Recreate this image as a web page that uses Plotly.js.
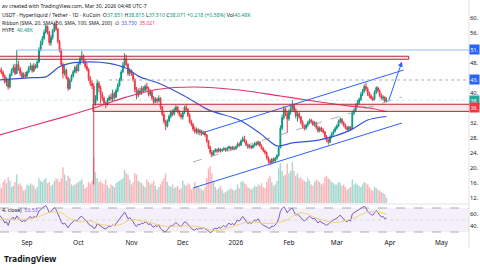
<!DOCTYPE html>
<html><head><meta charset="utf-8">
<script src="https://cdn.plot.ly/plotly-3.0.1.min.js"></script>
<style>html,body{margin:0;padding:0;background:#fff;}#chart{width:480px;height:270px;}</style>
</head><body><div id="chart"></div>
<script>
// ---- data (daily, starting 2025-08-16) ----
const firstDay = [2025, 7, 16];
const firstOpen = 45.8;
const closes = [
 46.2,45.5,44.6,42.9,43.6,41.6,44.8,45.9,46.8,45.2,47.6,46.4,45.3,44.2,44.9,44.5,
 45.6,46.7,47.2,45.9,47.3,46.8,48.3,51.6,53.2,54.6,56.2,57.8,56.3,53.4,54.8,56.6,58.5,57.1,53.8,51.4,47.6,45.2,46.1,44.0,41.2,43.3,44.6,45.7,46.8,45.9,
 47.8,49.2,49.8,48.2,47.1,46.2,43.8,42.6,41.9,37.2,38.3,42.6,41.4,39.5,38.6,37.3,36.9,38.2,38.9,38.4,39.8,38.9,40.6,41.9,43.4,45.6,47.4,49.2,47.6,45.2,46.0,
 45.1,43.6,40.9,39.4,40.6,40.1,41.3,40.7,41.8,41.2,39.6,40.3,38.7,37.6,38.4,37.9,38.6,36.2,34.3,32.4,31.2,32.6,33.8,34.9,34.4,35.5,36.2,35.0,34.2,33.6,
 34.8,36.1,35.6,34.1,32.4,31.6,30.4,29.7,30.2,29.5,29.9,29.1,29.6,28.8,27.2,25.6,24.2,23.5,24.4,24.9,24.5,25.0,24.6,24.9,25.2,24.7,25.3,25.6,25.0,25.4,25.1,
 25.6,26.4,26.1,27.2,27.8,27.1,26.2,25.6,25.9,25.4,26.0,26.6,26.3,26.9,26.0,25.2,24.6,24.1,22.8,21.9,21.4,22.3,21.9,22.6,23.3,25.4,30.6,33.4,35.6,34.6,33.1,
 34.9,35.8,36.7,35.4,33.9,34.5,33.6,32.2,31.1,30.6,31.4,32.1,32.7,32.3,31.6,32.1,30.8,29.9,30.7,30.2,29.6,28.4,27.4,26.9,28.3,29.1,29.8,30.6,
 31.2,32.4,33.0,32.1,31.4,30.8,30.3,30.9,30.4,34.6,35.3,36.6,37.4,38.3,39.6,40.5,41.8,41.1,39.8,39.2,38.6,38.3,40.2,41.4,40.6,39.4,38.6,38.9,37.851,38.071
];
const highs = [
 47.2,46.8,46.0,45.0,44.2,43.9,45.3,46.5,47.6,47.8,51.4,48.6,47.0,45.8,45.5,45.6,
 46.0,47.2,48.0,47.6,48.0,47.7,48.7,52.2,54.0,55.2,56.9,58.3,58.0,56.6,55.5,57.1,59.0,59.4,57.4,54.1,51.9,48.1,47.4,46.5,44.4,43.8,45.0,46.2,47.3,47.6,
 48.3,49.9,51.2,50.3,48.9,48.0,46.7,44.5,43.4,42.6,39.4,43.6,43.2,42.0,40.3,39.1,37.8,38.7,39.4,39.9,40.9,40.3,41.2,42.6,44.0,46.1,48.2,50.6,50.2,48.0,46.7,
 46.3,45.5,43.9,41.6,41.2,41.4,41.9,41.8,42.3,42.7,41.7,41.0,40.8,39.2,38.9,38.8,39.4,38.9,36.6,34.9,32.9,33.0,34.3,35.4,35.6,36.1,36.8,36.5,35.4,34.7,
 35.2,36.6,36.9,36.0,34.6,32.9,32.0,31.1,30.8,30.6,30.4,30.2,29.9,29.8,29.1,27.5,26.0,24.8,24.8,25.3,25.2,25.5,25.3,25.2,25.6,25.4,25.7,26.0,25.8,25.9,25.8,
 26.0,26.8,26.9,27.6,28.4,28.6,27.5,26.6,26.4,26.1,26.4,27.0,27.1,27.3,27.1,26.3,25.6,24.9,24.4,23.1,22.4,22.7,22.8,23.0,23.7,25.9,31.4,34.2,36.5,36.1,35.2,
 35.6,36.8,38.1,37.1,35.9,35.1,34.9,33.9,32.7,31.6,31.8,32.6,33.1,33.2,32.7,32.5,32.3,31.2,31.1,31.0,30.6,29.9,28.8,27.8,28.7,29.6,30.3,31.1,
 31.7,32.9,33.5,33.3,32.5,31.8,31.2,31.3,31.2,35.3,35.9,37.2,38.1,38.8,40.2,41.1,42.3,42.8,41.6,40.4,39.7,39.1,40.7,41.8,41.7,41.0,39.9,39.4,39.1,38.815
];
const lows = [
 45.5,45.0,43.8,42.5,41.8,40.9,41.2,44.5,45.4,44.8,45.0,45.9,44.6,43.8,43.9,44.0,
 44.2,45.2,46.1,45.4,45.6,46.3,46.6,48.0,51.1,52.8,54.2,55.8,55.6,52.7,52.6,54.2,56.2,56.5,53.2,50.9,47.2,43.9,44.6,43.6,40.6,40.9,43.0,44.1,45.2,45.3,
 45.8,47.4,48.6,47.8,46.5,45.8,43.2,41.9,41.0,15.6,36.6,37.9,40.2,37.2,37.9,36.8,35.9,36.6,37.8,37.9,37.6,38.2,38.6,40.2,41.7,43.1,45.3,46.9,47.1,44.6,44.5,
 44.6,43.0,40.2,38.3,38.8,39.4,39.5,40.1,40.3,40.6,39.1,39.2,38.1,37.0,37.3,37.2,37.5,35.6,33.8,31.8,30.1,30.8,32.2,33.2,33.8,34.0,35.1,34.6,33.7,33.0,
 32.9,34.4,35.1,33.6,31.9,31.1,29.8,29.2,29.1,28.9,28.7,28.6,28.8,28.3,26.7,25.1,23.6,22.9,23.2,24.1,24.0,24.2,24.1,24.3,24.6,24.3,24.5,25.0,24.7,24.8,24.7,
 24.9,25.4,25.7,25.9,26.9,26.7,25.9,25.1,25.2,25.0,25.2,25.7,25.9,26.0,25.6,24.9,24.2,23.6,22.3,21.2,20.7,21.0,21.4,21.6,22.2,23.0,25.2,30.1,32.9,33.8,29.4,
 32.6,34.2,35.3,34.8,33.2,32.4,33.0,31.6,30.5,30.0,30.2,30.9,31.7,31.8,31.2,31.0,30.3,29.4,29.5,29.6,29.2,27.9,26.9,26.2,26.6,27.9,28.8,29.5,
 30.2,30.9,31.9,31.6,30.9,30.3,29.9,29.8,29.9,30.3,34.1,34.9,36.2,36.9,37.9,39.2,40.0,40.5,39.2,38.6,38.1,37.8,38.0,39.7,40.1,38.9,38.2,37.9,37.4,37.51
];
const volumes = [
 150,120,170,190,160,210,180,130,140,170,230,150,160,140,100,110,
 150,140,160,150,140,110,130,200,180,170,190,200,160,170,140,150,180,200,190,170,200,290,230,180,220,200,150,140,150,160,
 170,180,190,150,120,130,170,160,180,370,250,200,170,180,160,150,190,140,120,150,140,130,160,170,180,190,200,270,240,230,190,
 150,170,240,230,180,170,160,140,130,190,170,150,160,180,140,110,130,150,180,200,240,170,140,130,150,120,130,140,110,120,
 180,150,140,160,150,110,120,170,140,130,120,110,100,130,200,280,300,240,180,130,110,120,140,110,80,90,100,110,120,110,100,
 110,150,120,170,180,160,150,130,120,110,120,140,130,150,140,160,130,120,170,200,220,170,140,150,180,280,320,260,220,230,320,
 240,260,330,260,220,240,200,210,190,180,170,200,180,150,140,170,190,180,170,150,160,210,220,200,190,170,160,150,
 150,170,160,140,150,130,110,120,130,190,150,160,150,140,130,150,170,160,150,130,110,100,130,120,110,100,90,80,70,40.48
];
const rsi = [
 58,55,51,45,47,41,49,52,55,50,57,53,50,47,49,48,
 51,54,56,52,56,54,58,65,68,70,72,74,69,62,64,68,71,67,59,54,47,43,45,41,37,42,45,47,50,48,
 52,55,56,52,50,48,43,41,40,36,37,44,42,39,38,36,35,38,40,39,42,40,44,47,51,55,59,63,58,52,54,
 51,47,42,39,43,42,45,44,47,46,42,44,40,38,41,39,42,36,33,31,30,34,37,41,40,44,46,43,41,39,
 43,47,46,42,38,36,34,33,36,34,37,35,38,35,34,31,29,30,35,36,35,38,36,39,41,38,42,45,42,44,42,
 46,50,48,53,56,52,47,44,46,44,47,50,49,52,47,43,41,40,38,37,36,40,39,42,45,52,64,69,72,68,62,
 66,68,70,64,58,60,57,53,50,48,51,54,56,54,52,53,48,45,48,46,44,42,41,43,46,48,50,51,
 53,56,58,54,51,49,47,50,48,60,62,64,66,67,69,71,73,70,64,62,59,58,63,66,62,58,55,56,52,53.53
];
const rsiMaDates = ['2025-08-16','2025-08-26','2025-09-05','2025-09-15','2025-09-21','2025-09-25','2025-10-01','2025-10-07','2025-10-15','2025-10-25','2025-10-31','2025-11-10','2025-11-20','2025-11-30','2025-12-10','2025-12-20','2025-12-30','2026-01-09','2026-01-19','2026-01-29','2026-02-08','2026-02-18','2026-02-28','2026-03-10','2026-03-20','2026-03-30'];
const rsiMa = [52,51,53,63,62,54,47,49,42,42,50,47,40,40,39,32,39,47,44,48,62,52,46,52,64,60];

const smaFastDates = ['2025-08-16','2025-09-04','2025-09-12','2025-09-20','2025-09-26','2025-10-07','2025-10-19','2025-10-29','2025-11-06','2025-11-17','2025-12-02','2025-12-16','2026-01-03','2026-01-15','2026-01-25','2026-02-03','2026-02-19','2026-03-09','2026-03-19','2026-03-30'];
const smaFast = [43.5,44.1,44.3,47.0,47.9,48.3,47.9,46.6,44.3,42.6,39.2,35.5,32.8,29.3,25.9,26.7,27.5,30.1,32.8,33.73];
const smaSlowDates = ['2025-08-16','2025-09-02','2025-09-20','2025-10-10','2025-10-29','2025-11-17','2025-12-07','2026-01-03','2026-01-27','2026-02-19','2026-03-09','2026-03-20','2026-03-30'];
const smaSlow = [28.8,31.0,33.3,36.0,38.9,41.0,41.6,40.8,39.2,37.6,36.5,36.0,35.021];

// drawings
const upperDates = ['2025-12-14','2026-04-09'];  const upperVals = [29.6, 46.13];
const lowerDates = ['2025-12-07','2026-04-08'];  const lowerVals = [14.67, 32.0];
const midDates   = ['2025-12-07','2026-04-08'];  const midVals   = [21.6, 38.93];
const arrowDates = ['2026-03-31','2026-04-08'];  const arrowVals = [37.6, 48.35];
const topZone = {from:'2025-08-01', to:'2026-04-12', lo:49.0, hi:49.8};
const lowZone = {from:'2025-10-09 12:00', to:'2026-06-01', lo:35.1, hi:37.0};
const resistLevel = {from:'2025-08-26', value:51.47};
const dottedLevel = {from:'2025-10-19', value:43.47};
const lastClose = 38.071;
const redLevel = 36.1;
// price-scale badges (only the part that fits inside the chart is shown, as in the reference)
const badgeTexts = ['51.', '43.', '38.', '36.'];

const monthTicks = ['2025-09-01','2025-10-01','2025-11-01','2025-12-01','2026-01-01','2026-02-01','2026-03-01','2026-04-01','2026-05-01'];
const monthLabels = ['Sep','Oct','Nov','Dec','2026','Feb','Mar','Apr','May'];
const priceTicks = [12,16,20,24,28,32,40,48,56,60];
const priceTickText = ['12.','16.','20.','24.','28.','32.','40.','48.','56.','60.'];
const rsiTicks = [40,60];
const rsiTickText = ['40.','60.'];

// ---- build ----
function dayStr(i){ const d = new Date(Date.UTC(firstDay[0], firstDay[1], firstDay[2]+i)); return d.toISOString().slice(0,10); }
const dates = closes.map((_, i) => dayStr(i));
const opens = closes.map((c, i) => i === 0 ? firstOpen : closes[i-1]);
const hi = highs.map((h,i)=>Math.max(h, opens[i], closes[i]));
const lo = lows.map((l,i)=>Math.min(l, opens[i], closes[i]));
const up = closes.map((c,i)=> c >= opens[i]);
const GREEN='#089981', RED='#f23645';

const traces = [
 {type:'bar', x:dates, y:volumes, xaxis:'x', yaxis:'y', marker:{color:up.map(u=>u?'rgba(8,153,129,0.38)':'rgba(242,54,69,0.38)'), line:{width:0}}, hoverinfo:'skip'},
 {type:'candlestick', x:dates, open:opens, high:hi, low:lo, close:closes, xaxis:'x', yaxis:'y3',
  increasing:{line:{color:GREEN,width:1}, fillcolor:GREEN}, decreasing:{line:{color:RED,width:1}, fillcolor:RED}, whiskerwidth:0, hoverinfo:'skip'},
 {type:'scatter', mode:'lines', x:smaSlowDates, y:smaSlow, xaxis:'x', yaxis:'y3', line:{color:'#e5336b', width:1.2, shape:'spline', smoothing:1}, hoverinfo:'skip'},
 {type:'scatter', mode:'lines', x:smaFastDates, y:smaFast, xaxis:'x', yaxis:'y3', line:{color:'#3653d6', width:1.2, shape:'spline', smoothing:0.8}, hoverinfo:'skip'},
 {type:'scatter', mode:'lines', x:upperDates, y:upperVals, xaxis:'x', yaxis:'y3', line:{color:'#2962ff', width:1}, hoverinfo:'skip'},
 {type:'scatter', mode:'lines', x:lowerDates, y:lowerVals, xaxis:'x', yaxis:'y3', line:{color:'#2962ff', width:1}, hoverinfo:'skip'},
 {type:'scatter', mode:'lines', x:midDates, y:midVals, xaxis:'x', yaxis:'y3', line:{color:'#9598a1', width:0.8, dash:'dash'}, hoverinfo:'skip'},
 {type:'scatter', mode:'lines', x:dates, y:rsi, xaxis:'x2', yaxis:'y2', line:{color:'#7e57c2', width:1}, hoverinfo:'skip'},
 {type:'scatter', mode:'lines', x:rsiMaDates, y:rsiMa, xaxis:'x2', yaxis:'y2', line:{color:'#f2d37a', width:1, shape:'spline'}, hoverinfo:'skip'}
];

const PH = 237, PW = 469;
const py = p => (PH - p)/PH;
const FONT = 'Noto Sans, Roboto, sans-serif';
const txt = (x, y, text, size, color, extra) => Object.assign({xref:'paper', yref:'paper', x:x/PW, y:py(y), text:text, showarrow:false, xanchor:'left', yanchor:'middle', font:{family:FONT, size:size, color:color}}, extra||{});
const axisLabel = (yv, yref, text, bg) => ({xref:'paper', yref:yref, x:1, y:yv, xanchor:'left', yanchor:'middle', xshift:0, text:text, showarrow:false, bgcolor:bg, borderpad:0.5, font:{family:FONT, size:5.3, color:'#ffffff'}});
const tickFont = {family:FONT, size:5.8, color:'#131722'};

const layout = {
 width:480, height:270, margin:{l:0, r:11, t:0, b:33},
 paper_bgcolor:'#ffffff', plot_bgcolor:'#ffffff', showlegend:false, dragmode:false,
 xaxis:{domain:[0,1], anchor:'y', type:'date', range:['2025-08-16 05:36','2026-05-17 04:19'], showticklabels:false, showgrid:false, zeroline:false, showline:false, rangeslider:{visible:false}, fixedrange:true},
 xaxis2:{domain:[0,1], anchor:'y2', type:'date', matches:'x', tickvals:monthTicks, ticktext:monthLabels, showgrid:false, zeroline:false, showline:false, ticks:'', tickfont:{family:FONT, size:6.5, color:'#131722'}},
 yaxis:{domain:[(PH-203)/PH, 1], range:[0,1644], visible:false, fixedrange:true},
 yaxis3:{overlaying:'y', anchor:'x', side:'right', range:[10.667,64.8], tickvals:priceTicks, ticktext:priceTickText, showgrid:false, zeroline:false, showline:false, ticks:'', ticklabelstandoff:0, tickfont:tickFont},
 yaxis2:{domain:[0, (PH-205)/PH], anchor:'x2', side:'right', range:[21.67,75], tickvals:rsiTicks, ticktext:rsiTickText, showgrid:false, zeroline:false, showline:false, ticks:'', ticklabelstandoff:0, tickfont:tickFont},
 shapes:[
  {type:'rect', xref:'paper', yref:'y2', x0:0, x1:1, y0:30, y1:70, fillcolor:'rgba(126,87,194,0.09)', line:{width:0}, layer:'below'},
  {type:'line', xref:'paper', yref:'y2', x0:0, x1:1, y0:70, y1:70, line:{color:'#9598a1', width:0.8, dash:'dash'}},
  {type:'line', xref:'paper', yref:'y2', x0:0, x1:1, y0:50, y1:50, line:{color:'rgba(149,152,161,0.35)', width:0.8, dash:'dot'}},
  {type:'line', xref:'paper', yref:'y2', x0:0, x1:1, y0:30, y1:30, line:{color:'#9598a1', width:0.8, dash:'dash'}},
  {type:'line', xref:'paper', yref:'paper', x0:0, x1:1, y0:py(204), y1:py(204), line:{color:'#e0e3eb', width:1}},
  {type:'line', xref:'paper', yref:'paper', x0:1, x1:1, y0:py(248), y1:1, line:{color:'#e0e3eb', width:1}},
  {type:'rect', xref:'x', yref:'y3', x0:topZone.from, x1:topZone.to, y0:topZone.lo, y1:topZone.hi, fillcolor:'rgba(242,54,69,0.12)', line:{color:'#b2283a', width:1}},
  {type:'rect', xref:'x', yref:'y3', x0:lowZone.from, x1:lowZone.to, y0:lowZone.lo, y1:lowZone.hi, fillcolor:'rgba(242,54,69,0.12)', line:{color:'#b2283a', width:1}},
  {type:'line', xref:'x', yref:'y3', x0:resistLevel.from, x1:'2026-06-01', y0:resistLevel.value, y1:resistLevel.value, line:{color:'#90bff9', width:1}},
  {type:'line', xref:'x', yref:'y3', x0:dottedLevel.from, x1:'2026-06-01', y0:dottedLevel.value, y1:dottedLevel.value, line:{color:'#a3acc4', width:1, dash:'dot'}},
  {type:'line', xref:'paper', yref:'y3', x0:0, x1:1, y0:lastClose, y1:lastClose, line:{color:'rgba(8,153,129,0.25)', width:0.8, dash:'dot'}}
 ],
 annotations:[
  txt(0, 6, 'av created with TradingView.com, Mar 30, 2026 04:48 UTC-7', 5.2, '#131722'),
  txt(0, 15.5, 'USDT · Hyperliquid / Tether · 1D · KuCoin  O<span style="color:#089981">37.851</span> H<span style="color:#089981">38.815</span> L<span style="color:#089981">37.510</span> C<span style="color:#089981">38.071</span> <span style="color:#089981">+0.218 (+0.58%)</span> Vol<span style="color:#089981">40.48K</span>', 5.2, '#131722'),
  txt(0, 22.6, 'Ribbon (SMA, 20, SMA, 50, SMA, 100, SMA, 200)  ∅  <span style="color:#3653d6">33.730</span>  <span style="color:#e5336b">35.021</span>', 5, '#131722'),
  txt(0, 30.4, 'HYPE  <span style="color:#089981">40.48K</span>', 5, '#131722'),
  txt(0, 210, '4, close)  <span style="color:#7e57c2">53.53</span>', 5.2, '#131722'),
  txt(2, 258, '<b>TradingView</b>', 8.5, '#131722'),
  axisLabel(resistLevel.value, 'y3', badgeTexts[0], '#2962ff'),
  axisLabel(dottedLevel.value, 'y3', badgeTexts[1], '#2962ff'),
  axisLabel(lastClose, 'y3', badgeTexts[2], '#22ab94'),
  axisLabel(redLevel, 'y3', badgeTexts[3], '#f23645'),
  {xref:'x', yref:'y3', axref:'x', ayref:'y3', x:arrowDates[1], y:arrowVals[1], ax:arrowDates[0], ay:arrowVals[0], text:'', showarrow:true, arrowhead:2, arrowsize:1, arrowwidth:1, arrowcolor:'#2962ff'}
 ]
};

Plotly.newPlot('chart', traces, layout, {staticPlot:true, displayModeBar:false});
</script></body></html>
